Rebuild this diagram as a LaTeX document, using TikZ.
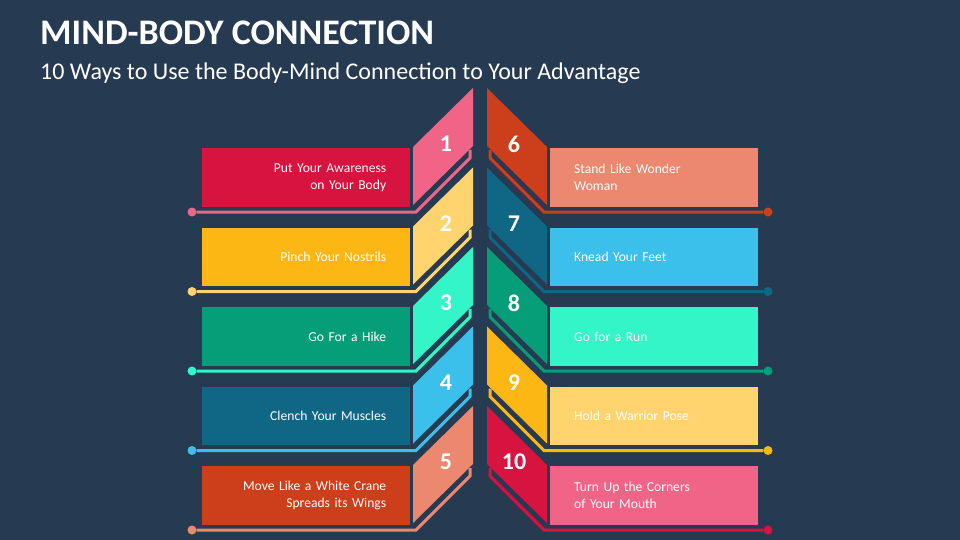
\documentclass[tikz,border=0pt]{standalone}
\usepackage{fontspec}
\setmainfont{Carlito}
\usepackage{xcolor}
\definecolor{mybg}{HTML}{263A52}
\definecolor{myred}{HTML}{D71440}
\definecolor{mypink}{HTML}{F06587}
\definecolor{myyellow}{HTML}{FDB714}
\definecolor{mylightyellow}{HTML}{FFD36E}
\definecolor{mygreen}{HTML}{069E78}
\definecolor{mymint}{HTML}{33F5C7}
\definecolor{myteal}{HTML}{0F6785}
\definecolor{myblue}{HTML}{3BBFEB}
\definecolor{myorange}{HTML}{CD3F1B}
\definecolor{mysalmon}{HTML}{EC8870}

\begin{document}
\begin{tikzpicture}[x=1pt,y=-1pt,
    box/.style={anchor=north west, minimum width=208pt, minimum height=58.5pt,
      inner sep=0pt, text width=160pt, text=white,
      font=\fontsize{13.6}{17}\selectfont},
    lbox/.style={box, align=right},
    rbox/.style={box, align=left},
    num/.style={text=white, font=\fontsize{24}{24}\selectfont\bfseries},
    dot/.style={circle, inner sep=0pt, minimum size=9pt},
    link/.style={line width=3pt}]

      % BACKGROUND
      \fill[mybg] (0,0) rectangle (960,540);
      \useasboundingbox (0,0) rectangle (960,540);

      % TITLE
      \node[anchor=base west, inner sep=0pt, text=white,
      font=\fontsize{36}{36}\selectfont\bfseries] (title) at (40,45)
      {MIND-BODY CONNECTION};
      \node[anchor=base west, inner sep=0pt, text=white,
      font=\fontsize{24}{24}\selectfont] (subtitle) at (40,80)
      {10 Ways to Use the Body-Mind Connection to Your Advantage};

      % 1
      \fill[mypink] (413,147) -- (473,88) -- (473,146) -- (413,205) -- cycle;
      \node[lbox, fill=myred] (b1) at (202,148) {Put Your Awareness\\on Your Body};
      \node[num] (n1) at (446,144) {1};
      \node[dot, fill=mypink] (d1) at (192,212) {};
      \coordinate (e1) at (470,150);
      \draw[link, mypink] (d1) -- (416,212) -- (470,158) -- (e1);

      % 2
      \fill[mylightyellow] (413,226.5) -- (473,167.5) -- (473,225.5) -- (413,284.5) -- cycle;
      \node[lbox, fill=myyellow] (b2) at (202,227.5) {Pinch Your Nostrils};
      \node[num] (n2) at (446,223.5) {2};
      \node[dot, fill=mylightyellow] (d2) at (192,291.5) {};
      \coordinate (e2) at (470,229.5);
      \draw[link, mylightyellow] (d2) -- (416,291.5) -- (470,237.5) -- (e2);

      % 3
      \fill[mymint] (413,306) -- (473,247) -- (473,305) -- (413,364) -- cycle;
      \node[lbox, fill=mygreen] (b3) at (202,307) {Go For a Hike};
      \node[num] (n3) at (446,303) {3};
      \node[dot, fill=mymint] (d3) at (192,371) {};
      \coordinate (e3) at (470,309);
      \draw[link, mymint] (d3) -- (416,371) -- (470,317) -- (e3);

      % 4
      \fill[myblue] (413,385.5) -- (473,326.5) -- (473,384.5) -- (413,443.5) -- cycle;
      \node[lbox, fill=myteal] (b4) at (202,386.5) {Clench Your Muscles};
      \node[num] (n4) at (446,382.5) {4};
      \node[dot, fill=myblue] (d4) at (192,450.5) {};
      \coordinate (e4) at (470,388.5);
      \draw[link, myblue] (d4) -- (416,450.5) -- (470,396.5) -- (e4);

      % 5
      \fill[mysalmon] (413,465) -- (473,406) -- (473,464) -- (413,523) -- cycle;
      \node[lbox, fill=myorange] (b5) at (202,466) {Move Like a White Crane\\Spreads its Wings};
      \node[num] (n5) at (446,462) {5};
      \node[dot, fill=mysalmon] (d5) at (192,530) {};
      \coordinate (e5) at (470,468);
      \draw[link, mysalmon] (d5) -- (416,530) -- (470,476) -- (e5);

      % 6
      \fill[myorange] (487,88) -- (547,147) -- (547,205) -- (487,146) -- cycle;
      \node[rbox, fill=mysalmon] (b6) at (550,148) {Stand Like Wonder\\Woman};
      \node[num] (n6) at (514,144) {6};
      \node[dot, fill=myorange] (d6) at (768,212) {};
      \coordinate (e6) at (490,150);
      \draw[link, myorange] (e6) -- (490,158) -- (544,212) -- (d6);

      % 7
      \fill[myteal] (487,167.5) -- (547,226.5) -- (547,284.5) -- (487,225.5) -- cycle;
      \node[rbox, fill=myblue] (b7) at (550,227.5) {Knead Your Feet};
      \node[num] (n7) at (514,223.5) {7};
      \node[dot, fill=myteal] (d7) at (768,291.5) {};
      \coordinate (e7) at (490,229.5);
      \draw[link, myteal] (e7) -- (490,237.5) -- (544,291.5) -- (d7);

      % 8
      \fill[mygreen] (487,247) -- (547,306) -- (547,364) -- (487,305) -- cycle;
      \node[rbox, fill=mymint] (b8) at (550,307) {Go for a Run};
      \node[num] (n8) at (514,303) {8};
      \node[dot, fill=mygreen] (d8) at (768,371) {};
      \coordinate (e8) at (490,309);
      \draw[link, mygreen] (e8) -- (490,317) -- (544,371) -- (d8);

      % 9
      \fill[myyellow] (487,326.5) -- (547,385.5) -- (547,443.5) -- (487,384.5) -- cycle;
      \node[rbox, fill=mylightyellow] (b9) at (550,386.5) {Hold a Warrior Pose};
      \node[num] (n9) at (514,382.5) {9};
      \node[dot, fill=myyellow] (d9) at (768,450.5) {};
      \coordinate (e9) at (490,388.5);
      \draw[link, myyellow] (e9) -- (490,396.5) -- (544,450.5) -- (d9);

      % 10
      \fill[myred] (487,406) -- (547,465) -- (547,523) -- (487,464) -- cycle;
      \node[rbox, fill=mypink] (b10) at (550,466) {Turn Up the Corners\\of Your Mouth};
      \node[num] (n10) at (514,462) {10};
      \node[dot, fill=myred] (d10) at (768,530) {};
      \coordinate (e10) at (490,468);
      \draw[link, myred] (e10) -- (490,476) -- (544,530) -- (d10);

\end{tikzpicture}
\end{document}
